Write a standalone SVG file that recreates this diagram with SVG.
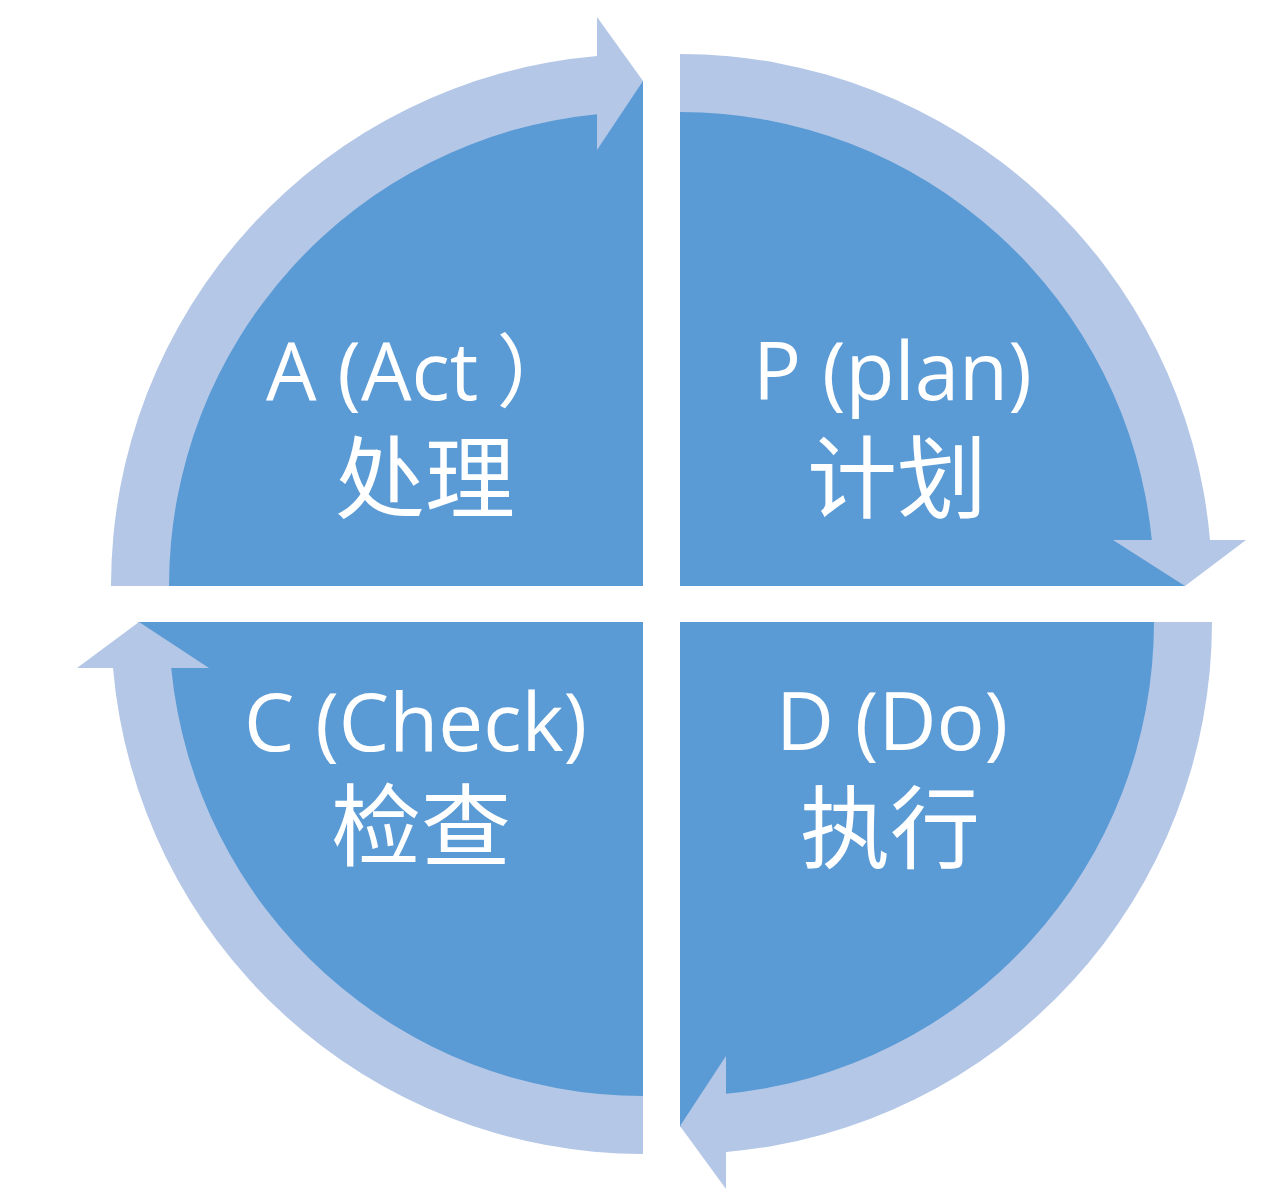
<svg xmlns="http://www.w3.org/2000/svg" width="1274" height="1192" viewBox="0 0 1274 1192">
  <style>
    .q { fill: #5b9bd5; }
    .band { fill: #b4c7e7; }
    .en { font-family: "Open Sans", "Noto Sans CJK SC", sans-serif; font-size: 80px; fill: #ffffff; }
    .zh { font-family: "Noto Sans CJK SC", sans-serif; font-size: 90px; fill: #ffffff; text-anchor: middle; }
  </style>
  <rect width="1274" height="1192" fill="#ffffff"/>

  <g id="node-act">
    <path class="q" d="M643,586 L138,586 A505,505 0 0 1 643,81 Z"/>
    <text class="en" x="266" y="400">A (Act<tspan dx="18">）</tspan></text>
    <text class="zh" x="425" y="511">处理</text>
  </g>
  <g id="node-plan">
    <path class="q" d="M680,586 L680,81 A505,505 0 0 1 1185,586 Z"/>
    <text class="en" x="753" y="400">P (plan)</text>
    <text class="zh" x="897" y="511">计划</text>
  </g>
  <g id="node-do">
    <path class="q" d="M680,622 L1185,622 A505,505 0 0 1 680,1127 Z"/>
    <text class="en" x="776" y="750">D (Do)</text>
    <text class="zh" x="890" y="861">执行</text>
  </g>
  <g id="node-check">
    <path class="q" d="M643,622 L643,1127 A505,505 0 0 1 138,622 Z"/>
    <text class="en" x="244" y="751">C (Check)</text>
    <text class="zh" x="421" y="859">检查</text>
  </g>

  <g id="connectors">
    <!-- A -> P -->
    <path class="band" d="M111,586 A532,532 0 0 1 597,56 L597,114.2 A474,474 0 0 0 169,586 Z"/>
    <path class="band" d="M597,17 L643,81 L597,150 Z"/>
    <!-- P -> D -->
    <path class="band" d="M680,54 A532,532 0 0 1 1210,540 L1151.8,540 A474,474 0 0 0 680,112 Z"/>
    <path class="band" d="M1113,540 L1246,540 L1185,586 Z"/>
    <!-- D -> C -->
    <path class="band" d="M1212,622 A532,532 0 0 1 726,1152 L726,1093.8 A474,474 0 0 0 1154,622 Z"/>
    <path class="band" d="M726,1056 L726,1189 L680,1126 Z"/>
    <!-- C -> A -->
    <path class="band" d="M643,1154 A532,532 0 0 1 113,668 L171.2,668 A474,474 0 0 0 643,1096 Z"/>
    <path class="band" d="M77,668 L209,668 L139,622 Z"/>
  </g>
</svg>
